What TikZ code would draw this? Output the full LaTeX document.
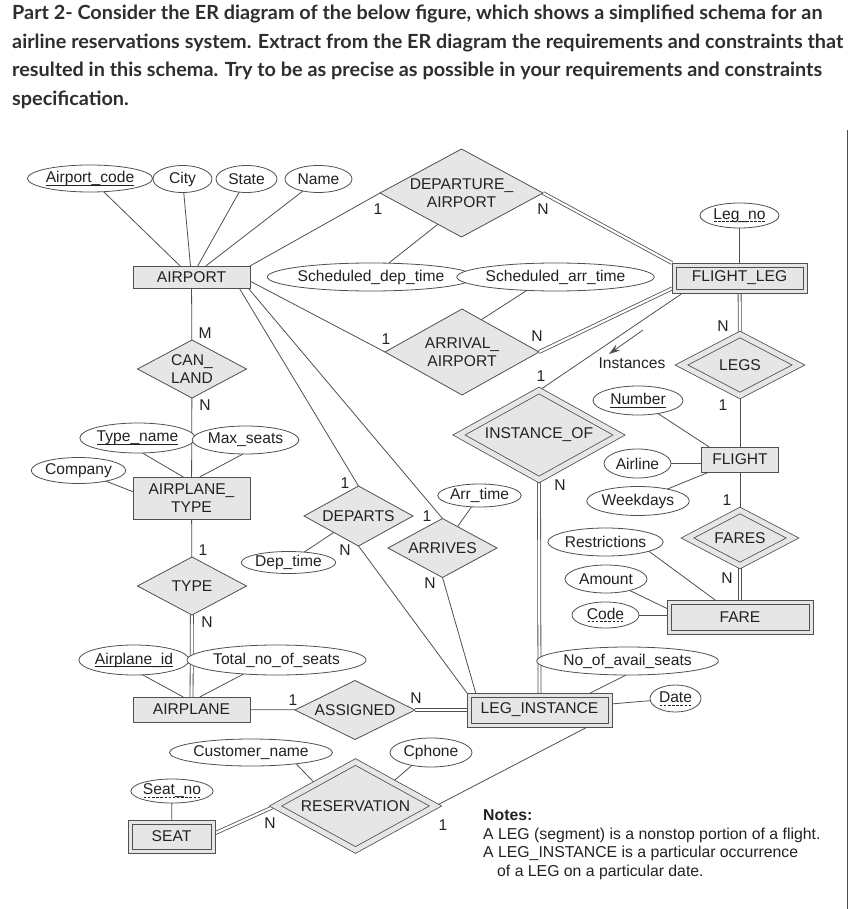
\documentclass[tikz,border=0pt]{standalone}
\usepackage{fontspec}
\setmainfont{Liberation Sans}
\newfontfamily\hdfont{Lato}
\usetikzlibrary{shapes.geometric,arrows.meta,calc}
\pgfdeclarelayer{bg}
\pgfsetlayers{bg,main}
\definecolor{lc}{HTML}{505050}
\definecolor{bf}{HTML}{E6E6E6}
\definecolor{tc}{HTML}{222222}
\definecolor{hc}{HTML}{2E2E2E}
\newcommand{\dfont}{\fontsize{15.6}{18}\selectfont}
\newcommand{\nfont}{\fontsize{15.8}{18.5}\selectfont}
\newcommand{\hfont}{\hdfont\bfseries\fontsize{19.5}{24}\selectfont}
\newcommand{\ulsolid}[1]{\leavevmode\setbox0\hbox{#1}\rlap{\rule[-2.8pt]{\wd0}{0.7pt}}\box0}
\newcommand{\uldash}[1]{\leavevmode\setbox0\hbox{#1}\rlap{\hbox to \wd0{\xleaders\hbox to 4pt{\hss\rule[-2.8pt]{2.4pt}{0.7pt}\hss}\hfill}}\box0}
\newsavebox{\hbx}
\newlength{\hdw}
\begin{document}
\sbox{\hbx}{\hfont airline reservations system. Extract from the ER diagram the requirements and constraints that}%
\setlength{\hdw}{\wd\hbx}%
\pgfmathsetmacro{\hfac}{831/\hdw}%
\begin{tikzpicture}[x=1pt,y=-1pt,
  ent/.style={rectangle, draw=lc, fill=bf, line width=0.8pt, inner sep=0pt, outer sep=0pt, text=tc, font=\dfont, align=center},
  inrect/.style={draw=lc, line width=0.8pt},
  rel/.style={diamond, draw=lc, fill=bf, line width=0.8pt, inner sep=0pt, outer sep=0pt, shape aspect=1.85, text=tc, font=\dfont, align=center},
  idrel/.style={rel, double=bf, double distance=5pt},
  attr/.style={ellipse, draw=lc, fill=white, line width=0.8pt, inner sep=0pt, outer sep=0pt, text=tc, font=\dfont},
  card/.style={inner sep=0pt, text=tc, font=\dfont},
  conn/.style={draw=lc, line width=0.8pt},
  tot/.style={conn, double=white, double distance=2.2pt},
  hdline/.style={anchor=base west, inner sep=0pt, text=hc, font=\hfont},
  noteline/.style={anchor=base west, inner sep=0pt, text=tc, font=\nfont}]
\begin{pgfonlayer}{bg}
\fill[white] (0,0) rectangle (850,909);
\end{pgfonlayer}
\useasboundingbox (0,0) rectangle (850,909);

% header
\node[hdline] (h1) at (12,20) {\scalebox{\hfac}[1]{Part 2- Consider the ER diagram of the below figure, which shows a simplified schema for an}};
\node[hdline] (h2) at (12,48.5) {\scalebox{\hfac}[1]{airline reservations system. Extract from the ER diagram the requirements and constraints that}};
\node[hdline] (h3) at (12,77) {\scalebox{\hfac}[1]{resulted in this schema. Try to be as precise as possible in your requirements and constraints}};
\node[hdline] (h4) at (12,105.5) {\scalebox{\hfac}[1]{specification.}};

% frame edge
\draw[lc, line width=1pt] (847,130) -- (847,909);

% entities
\node[ent, minimum width=117, minimum height=22] (airport) at (191.5,277) {AIRPORT};
\node[ent, minimum width=117, minimum height=42] (aptype) at (191.5,498) {AIRPLANE\_\\TYPE};
\node[ent, minimum width=77, minimum height=25] (flight) at (740,459.5) {FLIGHT};
\node[ent, minimum width=117, minimum height=25] (airplane) at (191.5,709.5) {AIRPLANE};
% weak entities (outer box + inner box)
\node[ent, minimum width=135, minimum height=30] (fleg) at (739.5,278) {FLIGHT\_LEG};
\node[ent, minimum width=146, minimum height=34] (fare) at (740,617) {FARE};
\node[ent, minimum width=145, minimum height=34] (leginst) at (539.5,710) {LEG\_INSTANCE};
\node[ent, minimum width=87, minimum height=33] (seat) at (171.5,836.5) {SEAT};
\draw[inrect] ([shift={(4,4)}]fleg.north west) rectangle ([shift={(-4,-4)}]fleg.south east);
\draw[inrect] ([shift={(4,4)}]fare.north west) rectangle ([shift={(-4,-4)}]fare.south east);
\draw[inrect] ([shift={(4,4)}]leginst.north west) rectangle ([shift={(-4,-4)}]leginst.south east);
\draw[inrect] ([shift={(4,4)}]seat.north west) rectangle ([shift={(-4,-4)}]seat.south east);

% relationships
\node[rel, minimum width=163, minimum height=88] (depap) at (461.5,193) {DEPARTURE\_\\AIRPORT};
\node[rel, minimum width=154, minimum height=86] (arrap) at (462,352) {ARRIVAL\_\\AIRPORT};
\node[rel, minimum width=109, minimum height=58] (canland) at (192,369) {CAN\_\\LAND};
\node[rel, minimum width=109, minimum height=58] (typer) at (192,586) {TYPE};
\node[rel, minimum width=109, minimum height=60] (departs) at (358.5,516) {DEPARTS};
\node[rel, minimum width=109, minimum height=59] (arrives) at (442.5,548) {ARRIVES};
\node[rel, minimum width=120, minimum height=59, shape aspect=2] (assigned) at (355,710) {ASSIGNED};
\node[idrel, minimum width=160, minimum height=89] (instof) at (539,435) {INSTANCE\_OF};
\node[idrel, minimum width=117, minimum height=61] (legs) at (740,365) {LEGS};
\node[idrel, minimum width=105, minimum height=55] (fares) at (740,538) {FARES};
\node[idrel, minimum width=160, minimum height=88] (reserv) at (355.5,806) {RESERVATION};

% attributes
\node[attr, minimum width=110, minimum height=27] (acode) at (90,178.5) {\ulsolid{Airport\_code}};
\node[attr, minimum width=59, minimum height=27] (city) at (182.5,179) {City};
\node[attr, minimum width=61, minimum height=27] (state) at (246.5,179) {State};
\node[attr, minimum width=67, minimum height=27] (aname) at (318.5,179) {Name};
\node[attr, minimum width=174, minimum height=28] (sdep) at (371,277) {Scheduled\_dep\_time};
\node[attr, minimum width=173, minimum height=28] (sarr) at (555.5,277) {Scheduled\_arr\_time};
\node[attr, minimum width=79, minimum height=25] (legno) at (739.5,215.5) {\uldash{Leg\_no}};
\node[attr, minimum width=90, minimum height=29] (number) at (638,400.5) {\ulsolid{Number}};
\node[attr, minimum width=67, minimum height=29] (airline) at (637.5,463.5) {Airline};
\node[attr, minimum width=90, minimum height=29] (weekdays) at (638,501) {Weekdays};
\node[attr, minimum width=105, minimum height=28] (restr) at (605.5,542) {Restrictions};
\node[attr, minimum width=82, minimum height=28] (amount) at (606,579) {Amount};
\node[attr, minimum width=67, minimum height=26] (code) at (605.5,615) {\uldash{Code}};
\node[attr, minimum width=145, minimum height=28] (avail) at (627.5,661) {No\_of\_avail\_seats};
\node[attr, minimum width=51, minimum height=27] (date) at (675.5,698.5) {\uldash{Date}};
\node[attr, minimum width=83, minimum height=23] (arrtime) at (479.5,495.5) {Arr\_time};
\node[attr, minimum width=81, minimum height=22] (deptime) at (288.5,562.5) {Dep\_time};
\node[attr, minimum width=95, minimum height=30] (tname) at (137.5,438) {\ulsolid{Type\_name}};
\node[attr, minimum width=95, minimum height=28] (maxseats) at (245.5,440) {Max\_seats};
\node[attr, minimum width=91, minimum height=26] (company) at (78.5,470.5) {Company};
\node[attr, minimum width=106, minimum height=30] (apid) at (134,660) {\ulsolid{Airplane\_id}};
\node[attr, minimum width=157, minimum height=30] (totseats) at (276.5,660) {Total\_no\_of\_seats};
\node[attr, minimum width=134, minimum height=27] (custname) at (251,752.5) {Customer\_name};
\node[attr, minimum width=82, minimum height=29] (cphone) at (431,752.5) {Cphone};
\node[attr, minimum width=78, minimum height=24] (seatno) at (172,791) {\uldash{Seat\_no}};

% cardinalities
\node[card] (k1) at (378,209) {1};
\node[card] (k2) at (543,209) {N};
\node[card] (k3) at (386,339) {1};
\node[card] (k4) at (537,336) {N};
\node[card] (k5) at (541,376) {1};
\node[card] (k6) at (560,485) {N};
\node[card] (k7) at (723,326) {N};
\node[card] (k8) at (723,405) {1};
\node[card] (k9) at (727,500) {1};
\node[card] (k10) at (727,578) {N};
\node[card] (k11) at (205,333) {M};
\node[card] (k12) at (205,405) {N};
\node[card] (k13) at (203,550) {1};
\node[card] (k14) at (207,622) {N};
\node[card] (k15) at (345,483) {1};
\node[card] (k16) at (345,550) {N};
\node[card] (k17) at (427,516) {1};
\node[card] (k18) at (430,583) {N};
\node[card] (k19) at (293,700) {1};
\node[card] (k20) at (416,698) {N};
\node[card] (k21) at (270,823) {N};
\node[card] (k22) at (443,825) {1};

% instances arrow
\node[card] (inst) at (632,363) {Instances};
\coordinate (ia) at (643,330);
\coordinate (ib) at (609,354);
\draw[conn, -{Stealth[length=11pt,width=7pt]}] (ia) -- (ib);

% notes
\node[noteline, font=\nfont\bfseries] (n1) at (483,820) {Notes:};
\node[noteline] (n2) at (483,839) {A LEG (segment) is a nonstop portion of a flight.};
\node[noteline] (n3) at (483,857.5) {A LEG\_INSTANCE is a particular occurrence};
\node[noteline] (n4) at (497,876) {of a LEG on a particular date.};

\begin{pgfonlayer}{bg}
% airport attributes
\draw[conn] (acode) -- (airport);
\draw[conn] (city) -- (airport);
\draw[conn] (state) -- (airport);
\draw[conn] (aname) -- (airport);
% airport relations
\draw[conn] (airport.north east) -- (depap.west);
\draw[tot] (depap.east) -- (fleg.north west);
\draw[conn] ($(depap.south)!0.29!(depap.west)$) -- (sdep.38);
\draw[conn] (sarr.205) -- ($(arrap.north)!0.25!(arrap.east)$);
\draw[conn] (airport.-4) -- (arrap.west);
\draw[tot] (arrap.east) -- ($(fleg.north west)!0.85!(fleg.south west)$);
\draw[conn] ($(fleg.south west)!0.08!(fleg.south east)$) -- (instof.north);
\draw[conn] (airport.-13) -- (departs.north);
\draw[conn] (airport.-11) -- (arrives.north);
% flight leg
\draw[conn] (legno) -- (fleg);
\draw[tot] (fleg) -- (legs);
\draw[conn] (legs) -- (flight);
\draw[conn] (number) -- ($(flight.north west)!0.1!(flight.north east)$);
\draw[conn] (airline.east) -- (airline.east -| flight.west);
\draw[conn] (weekdays) -- (flight);
\draw[conn] (flight) -- (fares);
\draw[tot] (fares) -- (fare);
\draw[conn] (restr.-12) -- ($(fare.north west)!0.33!(fare.north east)$);
\draw[conn] (amount) -- ($(fare.north west)!0.25!(fare.south west)$);
\draw[conn] (code.east) -- (code.east -| fare.west);
% leg instance
\draw[conn] (avail.-95) -- ($(leginst.north west)!0.85!(leginst.north east)$);
\draw[conn] (date) -- (leginst);
\draw[tot] (instof.south) -- (leginst.north);
\draw[conn] (departs.south) -- (leginst.north west);
\draw[conn] (arrives.south) -- ($(leginst.north west)!0.06!(leginst.north east)$);
\draw[conn] (arrtime) -- (arrives);
\draw[conn] (deptime) -- (departs);
% airplane side
\draw[conn] (airport) -- (canland);
\draw[conn] (canland) -- (aptype);
\draw[conn] (tname.-72) -- ($(aptype.north west)!0.43!(aptype.north east)$);
\draw[conn] (maxseats.-100) -- ($(aptype.north west)!0.57!(aptype.north east)$);
\draw[conn] (company) -- ($(aptype.north west)!0.35!(aptype.south west)$);
\draw[conn] (aptype) -- (typer);
\draw[tot] (typer) -- (airplane);
\draw[conn] (apid.-60) -- ($(airplane.north west)!0.43!(airplane.north east)$);
\draw[conn] (totseats.-157) -- ($(airplane.north west)!0.57!(airplane.north east)$);
\draw[conn] (airplane) -- (assigned);
\draw[tot] (assigned) -- (leginst);
% reservation
\draw[conn] (custname.-14) -- (reserv.north west);
\draw[conn] (cphone.-146) -- ($(reserv.north)!0.46!(reserv.east)$);
\draw[tot] ($(seat.north east)!0.4!(seat.south east)$) -- (reserv.west);
\draw[conn] (reserv.east) -- ($(leginst.south west)!0.83!(leginst.south east)$);
\draw[conn] (seatno) -- (seat);
\end{pgfonlayer}
\end{tikzpicture}
\end{document}
